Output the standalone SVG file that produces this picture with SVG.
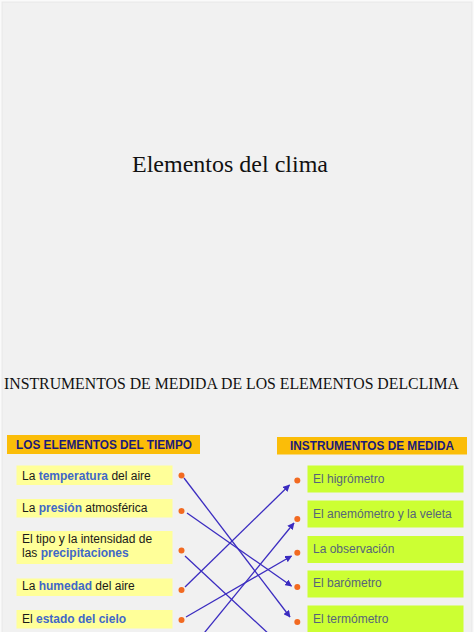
<svg xmlns="http://www.w3.org/2000/svg" width="474" height="632" viewBox="0 0 474 632">
<defs>
<style>
.serif{font-family:"Liberation Serif","Times New Roman",serif;fill:#111}
.hdr{fill:#fbbd08}
.hdrt{font-family:"Liberation Sans",Arial,sans-serif;font-weight:bold;font-size:12px;fill:#1c1a78}
.ybox{fill:#ffff99}
.gbox{fill:#ccff33}
.lt{font-family:"Liberation Sans",Arial,sans-serif;font-size:12px;fill:#1a1a1a}
.kw{font-weight:bold;fill:#3f68c8}
.rt{font-family:"Liberation Sans",Arial,sans-serif;font-size:12px;fill:#56657a}
.dot{fill:#f26a21}
.con{stroke:#3b2cc0;stroke-width:1.3;fill:none}
</style>
<marker id="ah" viewBox="0 0 10 10" refX="9" refY="5" markerWidth="7" markerHeight="7" markerUnits="userSpaceOnUse" orient="auto">
<path d="M0,0 L10,5 L0,10 Z" fill="#3b2cc0"/>
</marker>
</defs>
<rect x="0" y="0" width="474" height="632" fill="#fafafa"/>
<rect x="2" y="2" width="470" height="632" fill="#f1f1f1" stroke="#e6e6e6" stroke-width="0.8"/>

<text class="serif" x="230" y="172" font-size="24" text-anchor="middle">Elementos del clima</text>
<text class="serif" x="4" y="389" font-size="16" textLength="455" lengthAdjust="spacingAndGlyphs">INSTRUMENTOS DE MEDIDA DE LOS ELEMENTOS DELCLIMA</text>

<g id="hdr-left">
<rect class="hdr" x="7" y="435" width="193" height="19"/>
<text class="hdrt" x="16" y="448.5" textLength="176" lengthAdjust="spacingAndGlyphs">LOS ELEMENTOS DEL TIEMPO</text>
</g>
<g id="hdr-right">
<rect class="hdr" x="277" y="437" width="190" height="17.5"/>
<text class="hdrt" x="290" y="449.5" textLength="164" lengthAdjust="spacingAndGlyphs">INSTRUMENTOS DE MEDIDA</text>
</g>

<g id="l1">
<rect class="ybox" x="16.5" y="465.5" width="156" height="19.5"/>
<text class="lt" x="22" y="479.5">La <tspan class="kw">temperatura</tspan> del aire</text>
<circle class="dot" cx="181.5" cy="475.5" r="3"/>
</g>
<g id="l2">
<rect class="ybox" x="16.5" y="499" width="156" height="18.5"/>
<text class="lt" x="22" y="512">La <tspan class="kw">presión</tspan> atmosférica</text>
<circle class="dot" cx="181.5" cy="511" r="3"/>
</g>
<g id="l3">
<rect class="ybox" x="16.5" y="531" width="156" height="33"/>
<text class="lt" x="22" y="542.5">El tipo y la intensidad de</text>
<text class="lt" x="22" y="557">las <tspan class="kw">precipitaciones</tspan></text>
<circle class="dot" cx="181.5" cy="550.5" r="3"/>
</g>
<g id="l4">
<rect class="ybox" x="16.5" y="578.5" width="156" height="17.5"/>
<text class="lt" x="22" y="590">La <tspan class="kw">humedad</tspan> del aire</text>
<circle class="dot" cx="181.5" cy="590" r="3"/>
</g>
<g id="l5">
<rect class="ybox" x="16.5" y="610" width="156" height="18.5"/>
<text class="lt" x="22" y="623">El <tspan class="kw">estado del cielo</tspan></text>
<circle class="dot" cx="181.5" cy="620" r="3"/>
</g>

<g id="r1">
<rect class="gbox" x="307.5" y="465.5" width="156" height="27"/>
<text class="rt" x="313" y="483">El higrómetro</text>
<circle class="dot" cx="297.3" cy="480.5" r="3"/>
</g>
<g id="r2">
<rect class="gbox" x="307.5" y="500.5" width="156" height="27"/>
<text class="rt" x="313" y="517.5">El anemómetro y la veleta</text>
<circle class="dot" cx="297.3" cy="519" r="3"/>
</g>
<g id="r3">
<rect class="gbox" x="307.5" y="536" width="156" height="27"/>
<text class="rt" x="313" y="552.5">La observación</text>
<circle class="dot" cx="297.3" cy="552.7" r="3"/>
</g>
<g id="r4">
<rect class="gbox" x="307.5" y="570.5" width="156" height="27"/>
<text class="rt" x="313" y="587">El barómetro</text>
<circle class="dot" cx="297.3" cy="587" r="3"/>
</g>
<g id="r5">
<rect class="gbox" x="307.5" y="605.5" width="156" height="27"/>
<text class="rt" x="313" y="622.5">El termómetro</text>
<circle class="dot" cx="297.3" cy="622" r="3"/>
</g>

<g id="connectors">
<line class="con" x1="184" y1="478" x2="290" y2="617" marker-end="url(#ah)"/>
<line class="con" x1="187" y1="513" x2="291.5" y2="586" marker-end="url(#ah)"/>
<line class="con" x1="185" y1="556" x2="271" y2="636"/>
<line class="con" x1="185" y1="587" x2="289.5" y2="485" marker-end="url(#ah)"/>
<line class="con" x1="186" y1="617" x2="291.5" y2="556" marker-end="url(#ah)"/>
<line class="con" x1="201.7" y1="636" x2="294" y2="523" marker-end="url(#ah)"/>
</g>
</svg>
